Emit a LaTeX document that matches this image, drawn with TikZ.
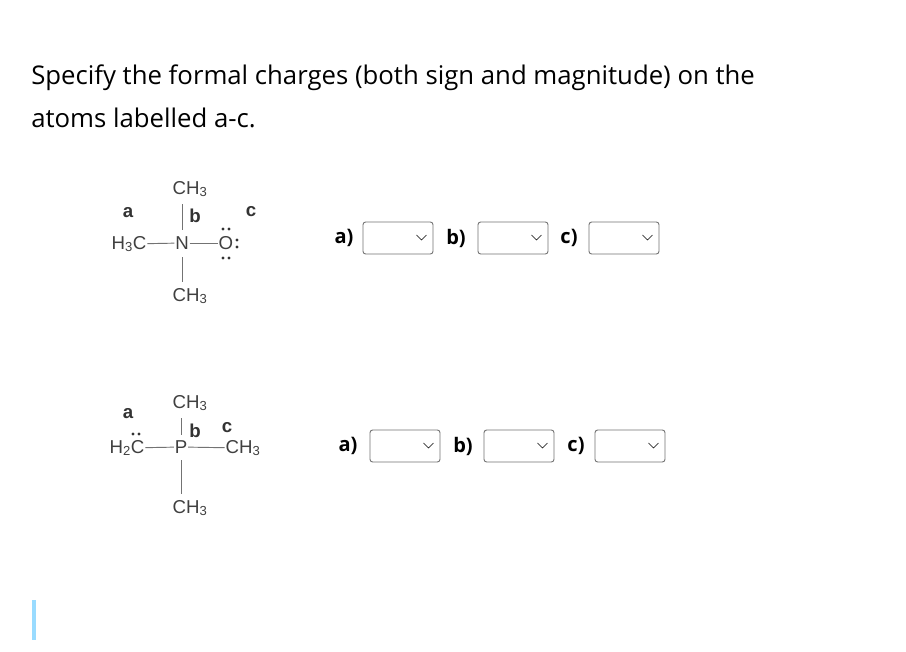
\documentclass[tikz,border=0pt]{standalone}
\usepackage{fontspec}
\setmainfont{Open Sans}
\newfontfamily\chem{Liberation Sans}
\begin{document}
\begin{tikzpicture}[x=0.75pt,y=-0.75pt,
  title/.style={anchor=west,inner sep=0,font=\fontsize{19.3}{22}\selectfont},
  ch/.style={inner sep=0.5,font=\chem\fontsize{14}{16}\selectfont,text=black!75},
  lab/.style={inner sep=0,font=\chem\bfseries\fontsize{14}{16}\selectfont,text=black!80},
  bond/.style={black!55,line width=0.7},
  ddlab/.style={inner sep=0,font=\bfseries\fontsize{15}{17}\selectfont},
  ddbox/.style={draw=black!55,rounded corners=2,line width=0.7,minimum width=52.5pt,minimum height=24pt,inner sep=0},
  dot/.style={circle,fill=black!80,inner sep=0,minimum size=2.3pt}]
\useasboundingbox[fill=white] (0,0) rectangle (906,651);
\node[title] (t1) at (31,78) {Specify the formal charges (both sign and magnitude) on the};
\node[title] (t2) at (31,118) {atoms labelled a-c.};
% molecule 1
\node[ch] (N) at (182,243) {N};
\node[ch] (C1) at (129,244) {H\textsubscript{3}C};
\node[ch] (O) at (226,243) {O};
\node[ch] (T1) at (190,189) {CH\textsubscript{3}};
\node[ch] (B1) at (190,296) {CH\textsubscript{3}};
\draw[bond] (C1) -- (N); \draw[bond] (N) -- (O);
\draw[bond] (182,204) -- (182,230); \draw[bond] (182,257) -- (182,282);
\node[lab] (a1) at (128,213) {a};
\node[lab] (b1) at (195,216) {b};
\node[lab] (c1) at (251,212) {c};
\node[dot] (o1) at (223,229) {}; \node[dot] (o2) at (229,229) {};
\node[dot] (o3) at (223,258) {}; \node[dot] (o4) at (229,258) {};
\node[dot] (o5) at (237,240) {}; \node[dot] (o6) at (237,247) {};
% dropdowns 1
\node[ddlab] (da1) at (344,238) {a)};
\node[ddbox] (xa1) at (398,238) {}; \draw (xa1.east) ++(-17,-3) -- ++(5,5) -- ++(5,-5);
\node[ddlab] (db1) at (456,238) {b)};
\node[ddbox] (xb1) at (513,238) {}; \draw (xb1.east) ++(-17,-3) -- ++(5,5) -- ++(5,-5);
\node[ddlab] (dc1) at (569,238) {c)};
\node[ddbox] (xc1) at (624,238) {}; \draw (xc1.east) ++(-17,-3) -- ++(5,5) -- ++(5,-5);
% molecule 2
\node[ch] (P) at (181,447) {P};
\node[ch] (C2) at (127,448) {H\textsubscript{2}C};
\node[ch] (R2) at (243,448) {CH\textsubscript{3}};
\node[ch] (T2) at (190,403) {CH\textsubscript{3}};
\node[ch] (B2) at (190,508) {CH\textsubscript{3}};
\draw[bond] (C2) -- (P); \draw[bond] (P) -- (R2);
\draw[bond] (181,418) -- (181,435); \draw[bond] (181,460) -- (181,494);
\node[lab] (a2) at (128,414) {a};
\node[lab] (b2) at (195,431) {b};
\node[lab] (c2) at (227,428) {c};
\node[dot] (p1) at (133,434) {}; \node[dot] (p2) at (139,434) {};
% dropdowns 2
\node[ddlab] (da2) at (348,446) {a)};
\node[ddbox] (xa2) at (405,446) {}; \draw (xa2.east) ++(-17,-3) -- ++(5,5) -- ++(5,-5);
\node[ddlab] (db2) at (463,446) {b)};
\node[ddbox] (xb2) at (519,446) {}; \draw (xb2.east) ++(-17,-3) -- ++(5,5) -- ++(5,-5);
\node[ddlab] (dc2) at (576,446) {c)};
\node[ddbox] (xc2) at (630,446) {}; \draw (xc2.east) ++(-17,-3) -- ++(5,5) -- ++(5,-5);
% cursor
\draw[blue!35!cyan!40,line width=2.5] (34,600) -- (34,640);
\end{tikzpicture}
\end{document}
